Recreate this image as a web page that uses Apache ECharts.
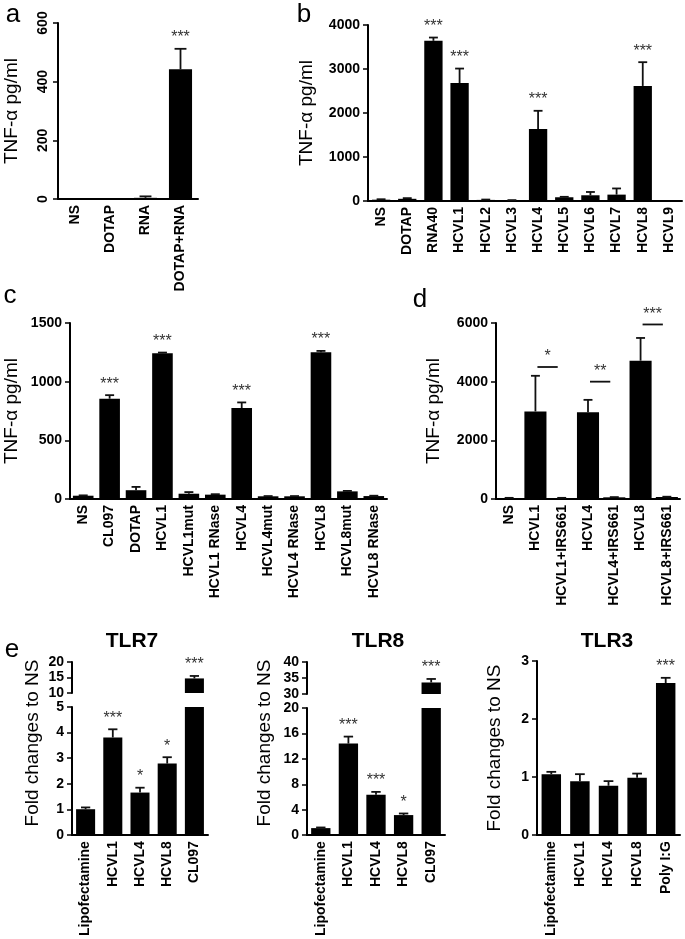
<!DOCTYPE html>
<html lang="en">
<head>
<meta charset="UTF-8">
<title>TNF-a panels</title>
<script src="https://cdn.jsdelivr.net/npm/echarts@6/dist/echarts.min.js"></script>
<style>
  html,body{margin:0;padding:0;background:#fff}
  #chart{width:685px;height:939px}
</style>
</head>
<body>
<div id="chart"></div>
<script>
// ---- data ----
// panel a
var catA = ['NS', 'DOTAP', 'RNA', 'DOTAP+RNA'];
var valA = [0, 0, 4, 442];
var errA = [0, 0, 5, 70];
var sigA = ['', '', '', '***'];
var tickA = [0, 200, 400, 600];

// panel b
var catB = ['NS', 'DOTAP', 'RNA40', 'HCVL1', 'HCVL2', 'HCVL3', 'HCVL4', 'HCVL5', 'HCVL6', 'HCVL7', 'HCVL8', 'HCVL9'];
var valB = [30, 50, 3640, 2680, 25, 15, 1635, 85, 130, 145, 2615, 5];
var errB = [10, 15, 75, 330, 8, 5, 415, 10, 75, 140, 540, 0];
var sigB = ['', '', '***', '***', '', '', '***', '', '', '', '***', ''];
var tickB = [0, 1000, 2000, 3000, 4000];

// panel c
var catC = ['NS', 'CL097', 'DOTAP', 'HCVL1', 'HCVL1mut', 'HCVL1 RNase', 'HCVL4', 'HCVL4mut', 'HCVL4 RNase', 'HCVL8', 'HCVL8mut', 'HCVL8 RNase'];
var valC = [28, 855, 75, 1243, 45, 37, 775, 23, 23, 1250, 65, 25];
var errC = [3, 30, 28, 5, 14, 4, 48, 2, 2, 12, 4, 3];
var sigC = ['', '***', '', '***', '', '', '***', '', '', '***', '', ''];
var tickC = [0, 500, 1000, 1500];

// panel d
var catD = ['NS', 'HCVL1', 'HCVL1+IRS661', 'HCVL4', 'HCVL4+IRS661', 'HCVL8', 'HCVL8+IRS661'];
var valD = [34, 2985, 34, 2960, 57, 4715, 68];
var errD = [5, 1215, 5, 420, 8, 775, 10];
var sigD = ['', '', '', '', '', '', ''];
// comparison bars: [from, to, level, stars]
var compD = [[1, 2, 4500, '*'], [3, 4, 4000, '**'], [5, 6, 5950, '***']];
var tickD = [0, 2000, 4000, 6000];

// panel e
var catT7 = ['Lipofectamine', 'HCVL1', 'HCVL4', 'HCVL8', 'CL097'];
var valT7 = [1.01, 3.81, 1.66, 2.79, 14.7];
var errT7 = [0.07, 0.32, 0.19, 0.25, 0.8];
var sigT7 = ['', '***', '*', '*', '***'];

var catT8 = ['Lipofectamine', 'HCVL1', 'HCVL4', 'HCVL8', 'CL097'];
var valT8 = [1.1, 14.4, 6.35, 3.15, 33.6];
var errT8 = [0.1, 1.1, 0.45, 0.25, 1.1];
var sigT8 = ['', '***', '***', '*', '***'];

var catT3 = ['Lipofectamine', 'HCVL1', 'HCVL4', 'HCVL8', 'Poly I:G'];
var valT3 = [1.05, 0.93, 0.85, 0.99, 2.62];
var errT3 = [0.04, 0.12, 0.08, 0.07, 0.09];
var sigT3 = ['', '', '', '', '***'];

var FONT = '"Liberation Sans", Arial, sans-serif';

// grid boxes [left, top, width, height]
var boxes = [
  [58, 23, 140, 176],    // 0 a
  [368, 25, 314, 176],   // 1 b
  [70, 323, 317, 176],   // 2 c
  [496, 323, 184, 176],  // 3 d
  [72, 662, 136, 31],    // 4 TLR7 top
  [72, 707, 136, 130],   // 5 TLR7 bottom
  [307, 662, 138, 32],   // 6 TLR8 top
  [307, 708, 138, 131],  // 7 TLR8 bottom
  [537, 661, 143, 176]   // 8 TLR3
];

var grids = boxes.map(function (b) {
  return {left: b[0], top: b[1], width: b[2], height: b[3], containLabel: false};
});

function xAxis(gi, cats, hidden) {
  return {
    type: 'category', gridIndex: gi, data: cats, show: !hidden,
    axisLine: {lineStyle: {color: '#000', width: 2}},
    axisTick: {alignWithLabel: true, length: 5, lineStyle: {color: '#000', width: 1.5}},
    axisLabel: {rotate: 90, margin: 6, color: '#000', fontFamily: FONT, fontWeight: 'bold', fontSize: 14, interval: 0}
  };
}

function yAxis(gi, min, max, step, name, gap, rot) {
  return {
    type: 'value', gridIndex: gi, min: min, max: max, interval: step,
    name: name || '', nameLocation: 'middle', nameGap: gap || 0,
    nameTextStyle: {color: '#000', fontFamily: FONT, fontSize: 19},
    splitLine: {show: false},
    axisLine: {show: true, lineStyle: {color: '#000', width: 2}},
    axisTick: {show: true, length: 5, lineStyle: {color: '#000', width: 1.5}},
    axisLabel: {margin: 8, rotate: rot || 0, color: '#000', fontFamily: FONT, fontWeight: 'bold', fontSize: 14,
      formatter: function (v) { return String(v); }}
  };
}

function bars(gi, vals, w) {
  return {
    type: 'bar', xAxisIndex: gi, yAxisIndex: gi, data: vals, barWidth: w,
    itemStyle: {color: '#000'}, clip: true, silent: true, animation: false
  };
}

// error bars (upward only) with significance stars, only for bars whose top lies in [lo, hi]
function errBars(gi, vals, errs, sig, lo, hi) {
  var rows = [];
  vals.forEach(function (v, i) {
    if (v >= lo && v <= hi) rows.push([i, v, v + errs[i]]);
  });
  return {
    type: 'custom', xAxisIndex: gi, yAxisIndex: gi, data: rows, z: 5, silent: true, animation: false,
    renderItem: function (params, api) {
      var r = rows[params.dataIndex];
      var p0 = api.coord([r[0], r[1]]);
      var p1 = api.coord([r[0], r[2]]);
      var hw = api.size([1, 0])[0] * 0.17;
      var ln = {stroke: '#111', lineWidth: 1.8};
      var kids = [];
      if (r[2] > r[1]) {
        kids.push({type: 'line', shape: {x1: p0[0], y1: p0[1], x2: p1[0], y2: p1[1]}, style: ln});
        kids.push({type: 'line', shape: {x1: p1[0] - hw, y1: p1[1], x2: p1[0] + hw, y2: p1[1]}, style: ln});
      }
      if (sig[r[0]]) {
        kids.push({type: 'text', style: {text: sig[r[0]], x: p1[0], y: p1[1] - 3, align: 'center', verticalAlign: 'bottom',
          fontFamily: FONT, fontSize: 16, fill: '#333'}});
      }
      return {type: 'group', children: kids};
    }
  };
}

// comparison lines in panel d
function compLines(gi, rows) {
  return {
    type: 'custom', xAxisIndex: gi, yAxisIndex: gi, data: rows.map(function (r) { return [r[0], r[1], r[2]]; }),
    z: 5, silent: true, animation: false,
    renderItem: function (params, api) {
      var r = rows[params.dataIndex];
      var a = api.coord([r[0], r[2]]);
      var b = api.coord([r[1], r[2]]);
      return {type: 'group', children: [
        {type: 'line', shape: {x1: a[0] + 2, y1: a[1], x2: b[0] - 4, y2: b[1]}, style: {stroke: '#111', lineWidth: 1.8}},
        {type: 'text', style: {text: r[3], x: (a[0] + b[0]) / 2 - 1, y: a[1] - 2, align: 'center', verticalAlign: 'bottom',
          fontFamily: FONT, fontSize: 16, fill: '#333'}}
      ]};
    }
  };
}

function label(txt, x, y, size, weight, rot) {
  return {type: 'text', x: x, y: y, rotation: rot || 0,
    style: {text: txt, fontFamily: FONT, fontSize: size, fontWeight: weight || 'normal', fill: '#000', align: 'center', verticalAlign: 'middle'}};
}

var myChart = echarts.init(document.getElementById('chart'), null, {renderer: 'canvas'});

var option = {
  animation: false,
  backgroundColor: '#fff',
  grid: grids,
  xAxis: [
    xAxis(0, catA), xAxis(1, catB), xAxis(2, catC), xAxis(3, catD),
    xAxis(4, catT7, true), xAxis(5, catT7),
    xAxis(6, catT8, true), xAxis(7, catT8),
    xAxis(8, catT3)
  ],
  yAxis: [
    yAxis(0, tickA[0], tickA[tickA.length - 1], 200, 'TNF-α pg/ml', 37, 90),
    yAxis(1, tickB[0], tickB[tickB.length - 1], 1000, 'TNF-α pg/ml', 52),
    yAxis(2, tickC[0], tickC[tickC.length - 1], 500, 'TNF-α pg/ml', 49),
    yAxis(3, tickD[0], tickD[tickD.length - 1], 2000, 'TNF-α pg/ml', 53),
    yAxis(4, 10, 20, 5), yAxis(5, 0, 5, 1),
    yAxis(6, 30, 40, 5), yAxis(7, 0, 20, 4),
    yAxis(8, 0, 3, 1, 'Fold changes to NS', 33)
  ],
  series: [
    bars(0, valA, '66%'), errBars(0, valA, errA, sigA, 0, 600),
    bars(1, valB, '70%'), errBars(1, valB, errB, sigB, 0, 4000),
    bars(2, valC, '78%'), errBars(2, valC, errC, sigC, 0, 1500),
    bars(3, valD, '84%'), errBars(3, valD, errD, sigD, 0, 6000), compLines(3, compD),
    bars(4, valT7, '70%'), errBars(4, valT7, errT7, sigT7, 10, 20),
    bars(5, valT7, '70%'), errBars(5, valT7, errT7, sigT7, 0, 5),
    bars(6, valT8, '70%'), errBars(6, valT8, errT8, sigT8, 30, 40),
    bars(7, valT8, '70%'), errBars(7, valT8, errT8, sigT8, 0, 20),
    bars(8, valT3, '68%'), errBars(8, valT3, errT3, sigT3, 0, 3)
  ],
  graphic: [
    label('a', 13, 15, 26),
    label('b', 304, 15, 26),
    label('c', 10, 296, 26),
    label('d', 420, 300, 26),
    label('e', 12, 650, 26),
    label('TLR7', 132, 641, 21, 'bold'),
    label('TLR8', 378, 641, 21, 'bold'),
    label('TLR3', 607, 641, 21, 'bold'),
    label('Fold changes to NS', 33, 743, 19, 'normal', Math.PI / 2),
    label('Fold changes to NS', 265, 743, 19, 'normal', Math.PI / 2)
  ]
};

myChart.setOption(option);
</script>
</body>
</html>
